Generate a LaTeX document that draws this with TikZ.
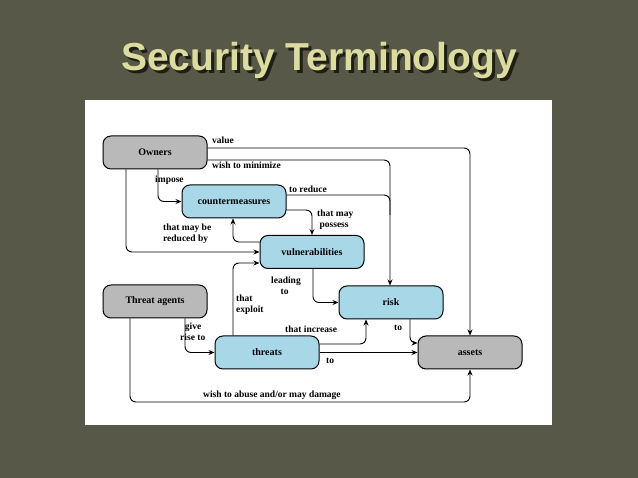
\documentclass[tikz,border=0pt]{standalone}
\usepackage{fontspec}
\setmainfont{Liberation Serif}
\newfontfamily\titlefont{Liberation Sans}
\usetikzlibrary{arrows.meta}
\begin{document}
\begin{tikzpicture}[x=1pt,y=-1pt,
  bx/.style={draw,line width=1pt,rounded corners=8pt,minimum width=104pt,minimum height=33pt,font=\bfseries\fontsize{10}{11}\selectfont,inner sep=0pt},
  gbox/.style={bx,fill=gray!55},
  cbox/.style={bx,fill={rgb,255:red,168;green,216;blue,232}},
  ar/.style={draw,line width=0.9pt,rounded corners=6pt,-{Stealth[length=6pt,width=5pt]}},
  lb/.style={font=\bfseries\fontsize{9.5}{11}\selectfont,inner sep=0pt,align=left}]
\fill[fill={rgb,255:red,88;green,88;blue,72}] (0,0) rectangle (638,478);
\useasboundingbox (0,0) rectangle (638,478);
\node[font=\titlefont\bfseries\fontsize{39}{44}\selectfont,text={rgb,255:red,30;green,30;blue,20}] (tsh) at (322,64) {Security Terminology};
\node[font=\titlefont\bfseries\fontsize{39}{44}\selectfont,text={rgb,255:red,220;green,220;blue,160}] (title) at (319,61) {Security Terminology};
\fill[white] (85,100) rectangle (552,425);
\node[gbox] (own) at (155,152.5) {Owners};
\node[cbox] (cm) at (234,201.5) {countermeasures};
\node[cbox] (vul) at (312,252) {vulnerabilities};
\node[gbox] (ta) at (155,301.5) {Threat agents};
\node[cbox] (risk) at (391,302.5) {risk};
\node[cbox] (thr) at (267,352.5) {threats};
\node[gbox] (as) at (470,352.5) {assets};
\coordinate (j) at (390,195);
\draw[ar] (own.east |- 0,148) -| (as.north);
\draw[ar] (own.east |- 0,160) -| (risk.north -| j);
\draw[ar,-] (cm.east |- 0,195) -| (390,215);
\draw[ar] (cm.east |- 0,210) -| (vul.north);
\draw[ar] (own.south -| 158,0) |- (cm.west);
\draw[ar] (own.south -| 126,0) |- (vul.west);
\draw[ar] (vul.west |- 0,242) -| (cm.south -| 233,0);
\draw[ar] (vul.south -| 313,0) |- (risk.west);
\draw[ar] (thr.north -| 233,0) |- (vul.west |- 0,263);
\draw[ar] (ta.south -| 185,0) |- (thr.west);
\draw[ar] (thr.east |- 0,344) -| (risk.south -| 366,0);
\draw[ar] (thr.east) -- (as.west);
\draw[ar] (risk.south -| 410,0) |- (as.west |- 0,343);
\draw[ar] (ta.south -| 130,0) |- (300,402) -| (as.south);
\node[lb,anchor=west] (l1) at (212,140) {value};
\node[lb,anchor=west] (l2) at (212,165) {wish to minimize};
\node[lb,anchor=west] (l3) at (289,189) {to reduce};
\node[lb,anchor=west] (l4) at (317,220) {that may\\\ possess};
\node[lb,anchor=west] (l5) at (155,180) {impose};
\node[lb,anchor=west] (l6) at (163,234) {that may be\\reduced by};
\node[lb,anchor=west] (l7) at (271,286) {leading\\\quad to};
\node[lb,anchor=west] (l8) at (236,305) {that\\exploit};
\node[lb,anchor=west] (l9) at (180,332) {\ \ give\\rise to};
\node[lb,anchor=west] (l10) at (285,329) {that increase};
\node[lb,anchor=west] (l11) at (326,361) {to};
\node[lb,anchor=west] (l12) at (394,328) {to};
\node[lb,anchor=west] (l13) at (203,395) {wish to abuse and/or may damage};
\end{tikzpicture}
\end{document}
